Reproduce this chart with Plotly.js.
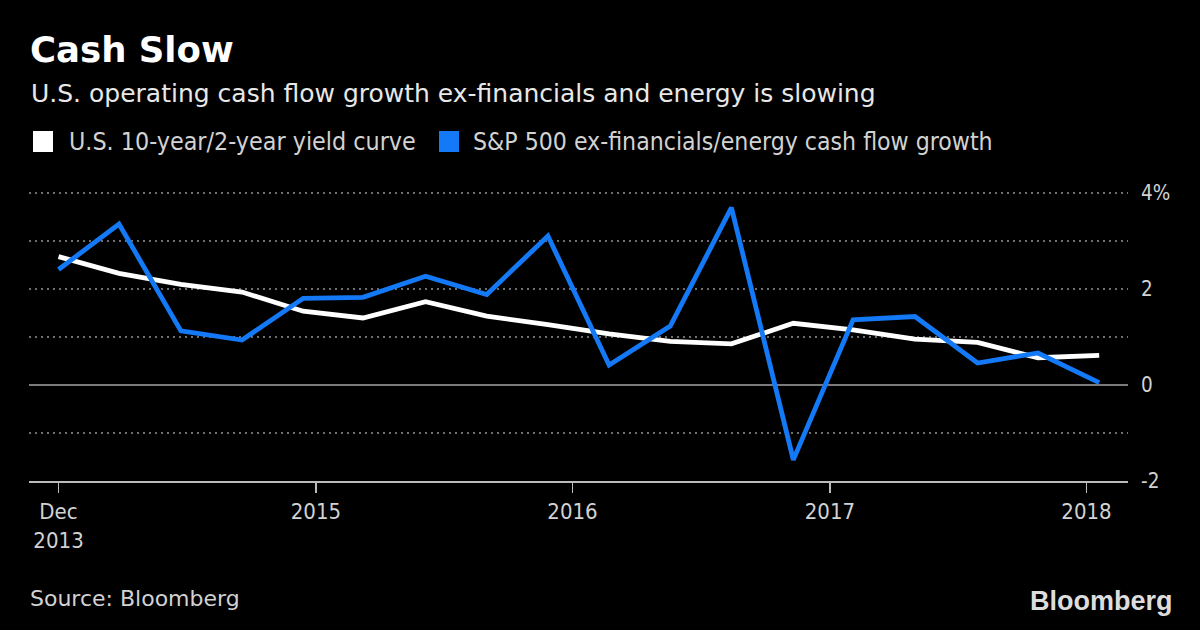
<!DOCTYPE html>
<html>
<head>
<meta charset="utf-8">
<script src="https://cdn.plot.ly/plotly-3.0.1.min.js"></script>
<style>
  html, body { margin: 0; padding: 0; background: #000; }
  #chart { width: 1200px; height: 630px; }
</style>
</head>
<body>
<div id="chart"></div>
<script>
// ---- Data ----
const dates = [
  '2013-12-31', '2014-03-27', '2014-06-23', '2014-09-18', '2014-12-14',
  '2015-03-09', '2015-06-06', '2015-09-01', '2015-11-27', '2016-02-22',
  '2016-05-19', '2016-08-14', '2016-11-10', '2017-02-03', '2017-05-02',
  '2017-07-30', '2017-10-24', '2018-01-19'
];
const yieldCurve = [
  2.68, 2.33, 2.10, 1.94, 1.54, 1.40, 1.74, 1.44, 1.26, 1.07,
  0.91, 0.86, 1.29, 1.15, 0.96, 0.89, 0.57, 0.62
];
const cashFlowGrowth = [
  2.41, 3.36, 1.13, 0.94, 1.81, 1.83, 2.27, 1.89, 3.11, 0.42,
  1.23, 3.70, -1.56, 1.36, 1.43, 0.46, 0.67, 0.05
];
const seriesNames = ['U.S. 10-year/2-year yield curve', 'S&P 500 ex-financials/energy cash flow growth'];
const xTickVals = ['2013-12-31', '2015-01-01', '2016-01-01', '2017-01-01', '2018-01-01'];
const xTickText = ['Dec<br>2013', '2015', '2016', '2017', '2018'];
const yTickVals = [-2, 0, 2, 4];
const yTickText = ['-2', '0', '2', '4%'];
const yMinorVals = [-1, 1, 3];

// ---- Layout geometry (pixels) ----
const W = 1200, H = 630;
const L = 29, R = 1128, T = 191, B = 481;
const yTop = 4.048;
const px = x => (x - L) / (R - L);
const py = y => (B - y) / (B - T);

const SANS = 'DejaVu Sans, sans-serif';
const COND = 'DejaVu Sans Condensed, DejaVu Sans, sans-serif';
const BLUE = '#1479f6';
const GRID = '#6e6e6e';
const DASH = '2px,4px';

const traces = [
  {
    x: dates, y: yieldCurve, name: seriesNames[0], type: 'scatter', mode: 'lines',
    line: { color: '#ffffff', width: 4.8 }, hoverinfo: 'skip'
  },
  {
    x: dates, y: cashFlowGrowth, name: seriesNames[1], type: 'scatter', mode: 'lines',
    line: { color: BLUE, width: 4.8 }, hoverinfo: 'skip'
  }
];

const layout = {
  width: W, height: H,
  paper_bgcolor: '#000', plot_bgcolor: '#000',
  margin: { l: L, r: W - R, t: T, b: H - B, pad: 0 },
  showlegend: false,
  font: { family: SANS, color: '#cccccc', size: 20 },
  title: {
    text: '<b>Cash Slow</b>',
    font: { family: SANS, size: 35.5, color: '#ffffff' },
    x: 30 / W, xanchor: 'left', xref: 'container',
    y: 1 - 50 / H, yanchor: 'middle', yref: 'container'
  },
  xaxis: {
    type: 'date',
    range: ['2013-11-19', '2018-03-01'],
    tickmode: 'array', tickvals: xTickVals, ticktext: xTickText,
    ticks: 'outside', ticklen: 10, tickwidth: 1.5, tickcolor: '#bbbbbb',
    showline: true, linecolor: '#bbbbbb', linewidth: 1.5,
    showgrid: false, zeroline: false,
    tickfont: { family: COND, size: 22, color: '#d2d2d2' },
    fixedrange: true
  },
  yaxis: {
    range: [-2, yTop], side: 'right',
    tickmode: 'array', tickvals: yTickVals, ticktext: yTickText,
    ticks: '', ticklabelstandoff: 12,
    showgrid: true, gridcolor: GRID, gridwidth: 2, griddash: DASH,
    minor: { tickmode: 'array', tickvals: yMinorVals, showgrid: true, gridcolor: GRID, gridwidth: 2, griddash: DASH, ticks: '' },
    zeroline: true, zerolinecolor: '#7a7a7a', zerolinewidth: 2,
    showline: false,
    tickfont: { family: COND, size: 20.5, color: '#d2d2d2' },
    fixedrange: true
  },
  shapes: [
    { type: 'rect', xref: 'paper', yref: 'paper', x0: px(33), x1: px(53), y0: py(152), y1: py(131), fillcolor: '#ffffff', line: { width: 0 } },
    { type: 'rect', xref: 'paper', yref: 'paper', x0: px(439), x1: px(459), y0: py(152), y1: py(131), fillcolor: BLUE, line: { width: 0 } }
  ],
  annotations: [
    { text: 'U.S. operating cash flow growth ex-financials and energy is slowing', xref: 'paper', yref: 'paper',
      x: px(29), y: py(93), xanchor: 'left', yanchor: 'middle', showarrow: false,
      font: { family: SANS, size: 25, color: '#e8e8e8' } },
    { text: seriesNames[0], xref: 'paper', yref: 'paper',
      x: px(67), y: py(141), xanchor: 'left', yanchor: 'middle', showarrow: false,
      font: { family: COND, size: 24.8, color: '#d2d2d2' } },
    { text: seriesNames[1], xref: 'paper', yref: 'paper',
      x: px(471), y: py(141), xanchor: 'left', yanchor: 'middle', showarrow: false,
      font: { family: COND, size: 24.6, color: '#d2d2d2' } },
    { text: 'Source: Bloomberg', xref: 'paper', yref: 'paper',
      x: px(28), y: py(598), xanchor: 'left', yanchor: 'middle', showarrow: false,
      font: { family: SANS, size: 22, color: '#d2d2d2' } },
    { text: '<b>Bloomberg</b>', xref: 'paper', yref: 'paper',
      x: px(1175), y: py(601), xanchor: 'right', yanchor: 'middle', showarrow: false,
      font: { family: 'Liberation Sans, Arial, sans-serif', size: 27, color: '#dddddd' } }
  ]
};

Plotly.newPlot('chart', traces, layout, { displayModeBar: false, staticPlot: true });
</script>
</body>
</html>
